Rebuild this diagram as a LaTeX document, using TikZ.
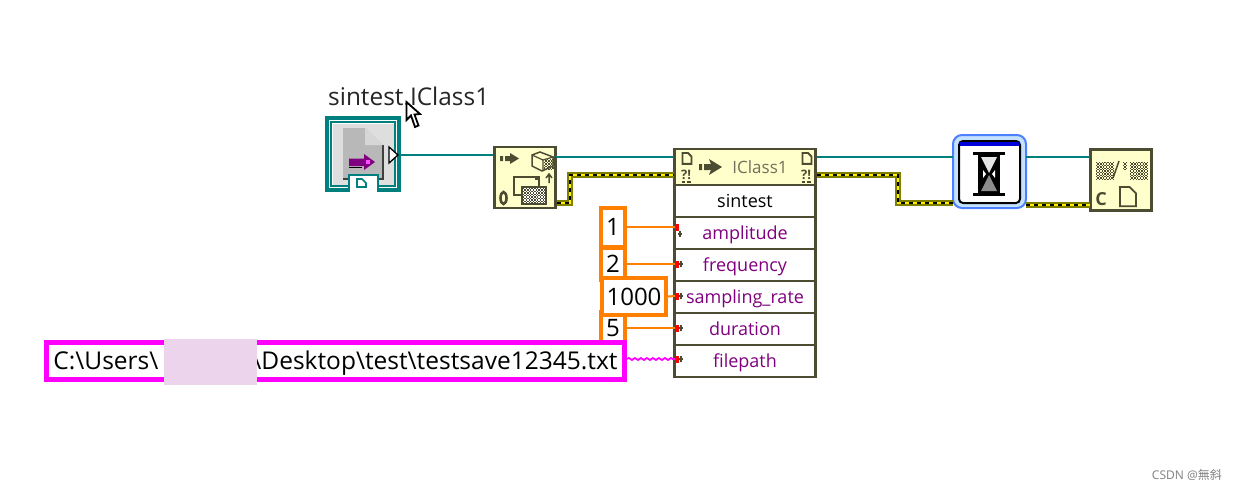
\documentclass[tikz,border=0pt]{standalone}
\usepackage{fontspec}
\setmainfont{Open Sans}
\newfontfamily\cjkfont{Noto Sans CJK TC}
\usetikzlibrary{decorations.pathmorphing}
\definecolor{tealw}{HTML}{007F7F}
\definecolor{orangew}{HTML}{FF8000}
\definecolor{pinkw}{HTML}{FF00FF}
\definecolor{lvborder}{HTML}{4C4C33}
\definecolor{lvfill}{HTML}{FFFFCC}
\definecolor{purp}{HTML}{800080}
\definecolor{olivew}{HTML}{808000}
\definecolor{blurc}{HTML}{EBD4EC}
\definecolor{hgblue}{HTML}{4D80FF}
\definecolor{hglight}{HTML}{C4E2FF}
\newcommand{\dither}[4]{% x0 y0 columns rows
  \foreach \i in {0,...,#3}{\foreach \j in {0,...,#4}{%
    \pgfmathparse{int(mod(\i+\j,2))}%
    \ifnum\pgfmathresult=0 \fill[lvborder] ({#1+\i*1.4},{#2+\j*1.4}) rectangle ++(1.4,1.4);\fi}}}
\newcommand{\filepic}[3]{% x y scale
  \draw[lvborder,line width=1.9,fill=none] (#1,#2) -- ++(0,{12*#3}) -- ++({10*#3},0) -- ++(0,{-8*#3}) -- ++({-4*#3},{-4*#3}) -- cycle;}
\newcommand{\errpic}[2]{%
  \node[font=\bfseries\fontsize{13}{13}\selectfont,text=lvborder,inner sep=0] at (#1,#2) {?!};
  \draw[lvborder,line width=1.5] ({#1-4.5},{#2+7.5}) -- ++(3.5,0) ++(2,0) -- ++(3.5,0);}
\tikzset{
  x=1pt,y=-1pt,
  tealwire/.style={draw=tealw,line width=2},
  orangewire/.style={draw=orangew,line width=2},
  lvnode/.style={draw=lvborder,line width=2.6,fill=lvfill,inner sep=0,rectangle},
  rowbox/.style={draw=lvborder,line width=2.6,fill=white,inner sep=0,minimum width=141.5,minimum height=32,
     text height=14,text depth=2,font=\fontsize{18}{18}\selectfont,text=purp},
  constbox/.style={draw=orangew,line width=4,fill=white,inner sep=0,text height=20,text depth=3,font=\fontsize{24}{24}\selectfont,text=black},
  pathbox/.style={draw=pinkw,line width=5,fill=white,inner sep=0,text height=20,text depth=3,font=\fontsize{24.5}{24.5}\selectfont,text=black},
}
\begin{document}
\begin{tikzpicture}
\useasboundingbox[fill=white] (0,0) rectangle (1236,490);

% --- nodes that carry the pins
\node[draw=tealw,line width=4,fill=white,inner sep=0,minimum width=72,minimum height=72] (open) at (363,154) {};
\node[lvnode,minimum width=61.5,minimum height=61] (refnode) at (525,177.5) {};
\node[lvnode,minimum width=141.5,minimum height=36] (head) at (745,167) {};
\node[rowbox,text=black] (rowsin) at (745,201) {sintest};
\node[rowbox] (rowamp) at (745,233) {amplitude};
\node[rowbox] (rowfreq) at (745,265) {frequency};
\node[rowbox] (rowrate) at (745,297) {sampling\_rate};
\node[rowbox] (rowdur) at (745,329) {duration};
\node[rowbox] (rowfile) at (745,361) {filepath};
\node[draw=hgblue,line width=2,fill=hglight,rounded corners=9,inner sep=0,minimum width=73,minimum height=73] (wait) at (989.5,171.5) {};
\node[lvnode,minimum width=61.5,minimum height=61] (close) at (1121,180) {};

% --- pins
\coordinate (openout) at (398,155);
\coordinate (refin) at (493,155);
\coordinate (refout) at (556,157);
\coordinate (referr) at (557,203);
\coordinate (headin) at (674,157);
\coordinate (headerr) at (674,175);
\coordinate (headout) at (817,157);
\coordinate (headerrout) at (817,175);
\coordinate (waitin) at (953,157);
\coordinate (waiterr) at (953,203);
\coordinate (waitout) at (1026,157);
\coordinate (waiterrout) at (1026,205);
\coordinate (closein) at (1090,157);
\coordinate (closeerr) at (1090,205);

% --- wires
\draw[tealwire] (openout) -- (refin);
\draw[tealwire] (refout) -- (headin);
\draw[tealwire] (headout) -- (waitin);
\draw[tealwire] (waitout) -- (closein);
\draw[draw=olivew,line width=5.5] (referr) -| (570,175) -- (headerr);
\draw[draw=yellow,line width=2.2] (referr) -| (570,175) -- (headerr);
\draw[draw=black,line width=2.2,dash pattern=on 4 off 4] (referr) -| (570,175) -- (headerr);
\draw[draw=olivew,line width=5.5] (headerrout) -| (898,203) -- (waiterr);
\draw[draw=yellow,line width=2.2] (headerrout) -| (898,203) -- (waiterr);
\draw[draw=black,line width=2.2,dash pattern=on 4 off 4] (headerrout) -| (898,203) -- (waiterr);
\draw[draw=olivew,line width=5.5] (waiterrout) -- (closeerr);
\draw[draw=yellow,line width=2.2] (waiterrout) -- (closeerr);
\draw[draw=black,line width=2.2,dash pattern=on 4 off 4] (waiterrout) -- (closeerr);

% --- constants
\node[constbox,minimum width=24,minimum height=39] (c1) at (613,227) {1};
\node[constbox,minimum width=24,minimum height=32] (c2) at (613,264) {2};
\node[constbox,minimum width=24,minimum height=32] (c5) at (613,328) {5};
\node[constbox,minimum width=64,minimum height=37] (c1000) at (634,296.5) {1000};
\node[pathbox,minimum width=578,minimum height=37] (cpath) at (335.5,361) {C:\textbackslash Users\textbackslash\kern94pt\textbackslash Desktop\textbackslash test\textbackslash testsave12345.txt};
\fill[blurc] (164,339) rectangle (257,385);

\coordinate (pathout) at (627,359);
\coordinate (pamp) at (675,227);
\coordinate (pfreq) at (675,264);
\coordinate (prate) at (675,296);
\coordinate (pdur) at (675,328);
\coordinate (pfile) at (675,359);
\draw[orangewire] (c1.east) -- (pamp);
\draw[orangewire] (c2.east) -- (pfreq);
\draw[orangewire] (c1000.east) -- (prate);
\draw[orangewire] (c5.east) -- (pdur);
\draw[draw=pinkw,line width=1.8,decorate,decoration={snake,amplitude=1,segment length=6}] (pathout) -- (pfile);
\foreach \p in {pamp,pfreq,prate,pdur,pfile}{
  \fill[red] ([yshift=3.5pt]\p) rectangle ([xshift=4pt,yshift=-3.5pt]\p);
}
\foreach \p in {pfreq,prate,pdur,pfile}{
  \draw[lvborder,line width=1.3] ([xshift=4pt]\p) -- ([xshift=8pt]\p) ([xshift=6pt,yshift=3pt]\p) -- ([xshift=6pt,yshift=-3pt]\p);
}
\draw[lvborder,line width=1.3] (678,234) -- (682,234) (680,231) -- (680,237);

% --- open icon
\draw[tealw,line width=1.6] (331,122) rectangle (395,186);
\fill[black!13] (332.5,123.5) rectangle (393.5,184.5);
\fill[black!28] (343,128) -- (365,128) -- (383,145) -- (383,179) -- (343,179) -- cycle;
\draw[black!75,line width=1.3] (383,145) -- (383,179) -- (343,179);
\fill[black!16] (365,128) -- (383,145) -- (365,145) -- cycle;
\fill[purp] (349,158.5) -- (364,158.5) -- (364,154) -- (375,162) -- (364,170) -- (364,166) -- (349,166) -- cycle;
\fill[pinkw!70] (366,160) rectangle (370,164);
\draw[black,line width=1] (349,167) -- (362,167);
\draw[tealw,line width=1.6,fill=white] (349,192) -- (349,175) -- (378,175) -- (378,192);
\draw[tealw,line width=1.6] (357,179) -- (357,187) -- (366,187) -- (366,183) -- (362,179) -- cycle;
\draw[black,line width=1.3,fill=white] (389,147) -- (398,155) -- (389,163) -- cycle;

% --- ref node glyphs
\fill[lvborder] (500,156) rectangle (503,161) (505,156) rectangle (510,161);
\fill[lvborder] (510,153) -- (519,158.5) -- (510,164) -- cycle;
\draw[lvborder,line width=1.5] (532,155) -- (540,152) -- (553,157) -- (553,166) -- (542,171) -- (532,166) -- cycle;
\draw[lvborder,line width=1.2] (532,155) -- (543,160) -- (553,157) (543,160) -- (543,171);
\dither{544}{159}{6}{7}
\draw[lvborder,line width=1.5,fill=lvfill] (514,177) rectangle (539,195);
\fill[lvborder] (535,177) rectangle (539,180);
\fill[white] (522,187) rectangle (546,204);
\draw[lvborder,line width=1.4] (522,187) rectangle (546,204);
\dither{523}{188}{15}{10}
\draw[lvborder,line width=1.5] (549,175) -- (549,183) (546,178) -- (549,174) -- (552,178);
\draw[lvborder,line width=2.6] (503.5,198) ellipse (3 and 6);

% --- invoke header glyphs
\filepic{682.5}{153}{0.9}
\filepic{802.5}{153}{0.9}
\errpic{686}{174.5}
\errpic{806}{174.5}
\fill[lvborder] (699,164) rectangle (702,170) (704,164) rectangle (709,170);
\fill[lvborder] (709,159) -- (722,167) -- (709,175) -- (712,167) -- cycle;
\fill[lvborder] (708,164) rectangle (714,170);
\node[font=\fontsize{17}{17}\selectfont,text=lvborder!80,inner sep=0] (headlabel) at (760,167) {IClass1};

% --- wait glyphs
\draw[black,line width=2,fill=white,rounded corners=4] (959,141) rectangle (1020,203);
\fill[blue!85!black] (960,142) rectangle (1019,146);
\draw[black,line width=3] (973,153.5) -- (1005,153.5) (973,194.5) -- (1005,194.5);
\fill[black] (978,154) rectangle (1000,194);
\fill[black!10] (981,157) -- (997,157) -- (989,173) -- cycle;
\fill[black!45] (981,191) -- (997,191) -- (989,175) -- cycle;
\fill[white] (983,170) -- (986,174) -- (983,178) -- cycle;
\fill[white] (995,170) -- (992,174) -- (995,178) -- cycle;

% --- close node glyphs
\dither{1096}{162}{12}{12}
\dither{1130}{162}{12}{12}
\dither{1123}{162}{2}{5}
\draw[lvborder,line width=1.5] (1113,178) -- (1119,161);
\node[font=\bfseries\fontsize{18}{18}\selectfont,text=lvborder,inner sep=0] (closec) at (1101,199) {C};
\filepic{1120}{187}{1.6}

% --- caption, cursor, watermark
\node[font=\fontsize{24.4}{24.4}\selectfont,text=black!85,anchor=base west,inner sep=0] (title) at (328,105) {sintest.IClass1};
\draw[black,line width=1.8,fill=white,line join=miter] (406.5,102) -- (406.5,120) -- (411,115.5) -- (415,127) -- (418.5,125.5) -- (414.5,114.5) -- (420,114) -- cycle;
\node[font=\fontsize{12}{12}\selectfont,text=black!50,anchor=east,inner sep=0] (mark) at (1222,475) {CSDN @{\cjkfont 無斜}};
\end{tikzpicture}
\end{document}
